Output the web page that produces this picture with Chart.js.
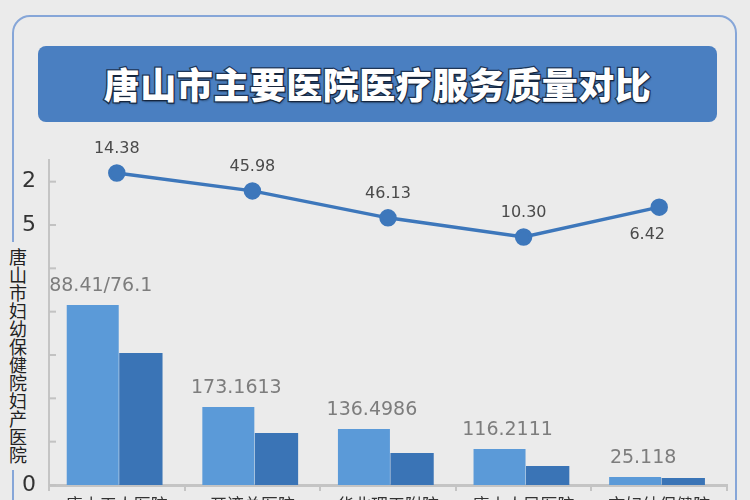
<!DOCTYPE html>
<html>
<head>
<meta charset="utf-8">
<script src="https://cdn.jsdelivr.net/npm/chart.js@4"></script>
<style>
body{
    margin:0;
    width:750px;
    height:500px;
    overflow:hidden;
    background:#ebebeb;
    position:relative;
    font-family:"Noto Sans CJK SC","Noto Sans",sans-serif;
}
.frame{
    position:absolute;
    left:12px;
    top:15px;
    width:721px;
    height:600px;
    border:2px solid #86a6d8;
    border-radius:18px;
}
.banner{
    position:absolute;
    left:38px;
    top:46px;
    width:679px;
    height:76px;
    background:#4a7fc1;
    border-radius:8px;
    color:#fff;
    font-size:36px;
    font-weight:900;
    letter-spacing:0.5px;
    text-align:center;
    line-height:74px;
    -webkit-text-stroke:2.5px #1e3556;
    paint-order:stroke fill;
    text-shadow:1px 2px 2px rgba(0,0,0,0.3);
}
#chart{
    position:absolute;
    left:0;
    top:0;
}
.ytitle{
    position:absolute;
    left:5px;
    top:242px;
    background:#ebebeb;
    writing-mode:vertical-rl;
    text-orientation:upright;
    font-size:18px;
    color:#222;
    padding:6px 0;
    letter-spacing:0px;
}
</style>
</head>
<body>
<div class="frame"></div>
<div class="banner">唐山市主要医院医疗服务质量对比</div>
<canvas id="chart" width="750" height="540"></canvas>
<div class="ytitle">唐山市妇幼保健院妇产医院</div>
<script>
const hospitals = ['唐山工人医院', '开滦总医院', '华北理工附院', '唐山人民医院', '市妇幼保健院'];
const visits = [83.1, 36.0, 25.8, 16.6, 3.7];
const discharges = [60.9, 24.0, 14.8, 8.8, 3.2];
const satisfaction = [96.0, 90.5, 82.2, 76.3, 85.5];
const barLabels = ['88.41/76.1', '173.1613', '136.4986', '116.2111', '25.118'];
const lineLabels = ['14.38', '45.98', '46.13', '10.30', '6.42'];
const yTicks = [0, 20, 40, 60, 80, 100, 120, 140];
const yTickLabels = ['0', '', '', '', '', '', '5', '2'];

// short tick marks drawn inside the plot, plus the value texts
const marksPlugin = {
    id: 'marks',
    afterDatasetsDraw(chart){
        const ctx = chart.ctx;
        const y = chart.scales.y;
        const area = chart.chartArea;

        ctx.save();
        ctx.strokeStyle = '#c2c2c2';
        ctx.lineWidth = 2;
        yTicks.forEach(v => {
            const py = y.getPixelForValue(v);
            ctx.beginPath();
            ctx.moveTo(area.left, py);
            ctx.lineTo(area.left + 7, py);
            ctx.stroke();
        });

        const light = chart.getDatasetMeta(0).data;
        const dark = chart.getDatasetMeta(1).data;
        ctx.font = '19px "DejaVu Sans", sans-serif';
        ctx.fillStyle = '#7d7d7d';
        ctx.textAlign = 'center';
        ctx.textBaseline = 'middle';
        light.forEach((bar, i) => {
            const top = Math.min(bar.y, dark[i].y);
            ctx.fillText(barLabels[i], bar.x + 8, top - 19);
        });

        const pts = chart.getDatasetMeta(2).data;
        ctx.font = '16px "DejaVu Sans", sans-serif';
        ctx.fillStyle = '#4a4a4a';
        pts.forEach((p, i) => {
            if (i === pts.length - 1) {
                ctx.fillText(lineLabels[i], p.x - 12, p.y + 28);
            } else {
                ctx.fillText(lineLabels[i], p.x, p.y - 24);
            }
        });
        ctx.restore();
    }
};

new Chart(document.getElementById('chart'), {

    type: 'bar',

    data: {
        labels: hospitals,
        datasets: [
            {
                label: '门诊量',
                data: visits,
                backgroundColor: '#5b9ad8',
                barPercentage: 1.08,
                yAxisID: 'y',
                order: 1
            },
            {
                label: '出院量',
                data: discharges,
                backgroundColor: '#3a74b6',
                barPercentage: 0.9,
                yAxisID: 'y',
                order: 1
            },
            {
                type: 'line',
                label: '满意度',
                data: satisfaction,
                borderColor: '#3d77bb',
                backgroundColor: '#3d77bb',
                borderWidth: 3.5,
                pointRadius: 7,
                pointHoverRadius: 7,
                tension: 0,
                yAxisID: 'y1',
                order: 0
            }
        ]
    },

    options: {
        responsive: false,
        animation: false,
        layout: {
            padding: { top: 160, left: 5, right: 23, bottom: 15 }
        },
        datasets: {
            bar: {
                categoryPercentage: 0.71
            }
        },
        plugins: {
            legend: { display: false },
            tooltip: { enabled: false }
        },
        scales: {
            x: {
                afterFit(scale){ scale.height = 40; },
                border: { color: '#c4c4c4', width: 3 },
                grid: {
                    offset: true,
                    drawOnChartArea: false,
                    tickLength: 6,
                    color: '#c4c4c4',
                    lineWidth: 2
                },
                ticks: {
                    color: '#333',
                    padding: 3,
                    font: { size: 17, family: '"Noto Sans CJK SC"' }
                }
            },
            y: {
                min: 0,
                max: 150,
                afterFit(scale){ scale.width = 44; },
                afterBuildTicks(scale){
                    scale.ticks = yTicks.map(v => ({ value: v }));
                },
                border: { color: '#c4c4c4', width: 2 },
                grid: { display: false, drawTicks: false },
                ticks: {
                    autoSkip: false,
                    padding: 13,
                    color: '#333',
                    font: { size: 22, family: 'DejaVu Sans' },
                    callback: (v, i) => yTickLabels[i]
                }
            },
            y1: {
                display: false,
                min: 0,
                max: 100
            }
        }
    },

    plugins: [marksPlugin]

});
</script>
</body>
</html>
